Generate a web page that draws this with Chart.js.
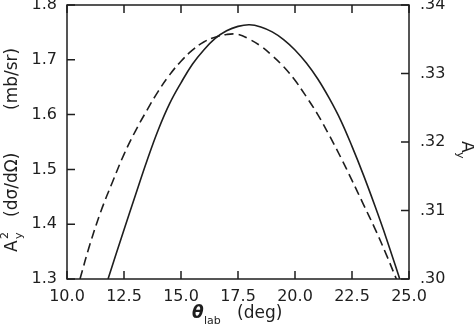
<!DOCTYPE html>
<html>
<head>
<meta charset="utf-8">
<script src="https://cdn.jsdelivr.net/npm/chart.js@4.4.1/dist/chart.umd.min.js"></script>
<style>
  html, body { margin: 0; padding: 0; background: #fff; }
  #wrap { width: 474px; height: 325px; position: relative; }
</style>
</head>
<body>
<div id="wrap"><canvas id="grafico"></canvas></div>
<script>
// theta_lab (deg) and A_y^2 dsigma/dOmega (mb/sr) -- solid curve, left axis
const thetaSolido = [11.8, 12.5, 13.0, 13.5, 14.0, 14.5, 15.0, 15.5, 16.0, 16.5, 17.0, 17.5, 18.0, 18.5, 19.0, 19.5, 20.0, 20.5, 21.0, 21.5, 22.0, 22.5, 23.0, 23.5, 24.0, 24.61];
const valoresSolido = [1.30, 1.39, 1.453, 1.515, 1.572, 1.620, 1.658, 1.692, 1.718, 1.739, 1.753, 1.761, 1.764, 1.760, 1.751, 1.737, 1.718, 1.694, 1.665, 1.630, 1.590, 1.542, 1.490, 1.434, 1.375, 1.298];

// theta_lab (deg) and A_y -- dashed curve, right axis
const thetaTracejado = [10.57, 11.0, 11.5, 12.0, 12.5, 13.0, 13.5, 14.0, 14.5, 15.0, 15.5, 16.0, 16.5, 17.0, 17.5, 18.0, 18.5, 19.0, 19.5, 20.0, 20.5, 21.0, 21.5, 22.0, 22.5, 23.0, 23.5, 24.0, 24.47];
const valoresTracejado = [0.3000, 0.3050, 0.3100, 0.3142, 0.3182, 0.3216, 0.3246, 0.3274, 0.3298, 0.3318, 0.3334, 0.3346, 0.3353, 0.3357, 0.3357, 0.3350, 0.3340, 0.3326, 0.3310, 0.3290, 0.3266, 0.3240, 0.3210, 0.3178, 0.3144, 0.3109, 0.3074, 0.3036, 0.2998];

// tick labels
const ticksX = [10, 12.5, 15, 17.5, 20, 22.5, 25];
const ticksEsq = [1.3, 1.4, 1.5, 1.6, 1.7, 1.8];
const ticksDir = [0.30, 0.31, 0.32, 0.33, 0.34];

const FONTE = "'DejaVu Sans', sans-serif";
const COR = '#1e1e1e';

const pares = (xs, ys) => xs.map((x, i) => ({ x: x, y: ys[i] }));

function fixarTicks(lista) {
    return function (scale) {
        scale.ticks = lista.map(v => ({ value: v }));
    };
}

function semPadding(scale) {
    scale.paddingTop = 0;
    scale.paddingBottom = 0;
    scale.paddingLeft = 0;
    scale.paddingRight = 0;
}

// frame, inward ticks and axis titles
const moldura = {
    id: 'moldura',
    afterDraw(chart) {
        const ctx = chart.ctx;
        const a = chart.chartArea;
        const sx = chart.scales.x, sy = chart.scales.y, sy2 = chart.scales.y2;
        const L = 8;
        ctx.save();
        ctx.strokeStyle = COR;
        ctx.lineWidth = 1.5;
        ctx.strokeRect(a.left, a.top, a.right - a.left, a.bottom - a.top);
        ctx.beginPath();
        ticksX.forEach(v => {
            const px = sx.getPixelForValue(v);
            ctx.moveTo(px, a.bottom); ctx.lineTo(px, a.bottom - L);
            ctx.moveTo(px, a.top); ctx.lineTo(px, a.top + L);
        });
        ticksEsq.forEach(v => {
            const py = sy.getPixelForValue(v);
            ctx.moveTo(a.left, py); ctx.lineTo(a.left + L, py);
        });
        ticksDir.forEach(v => {
            const py = sy2.getPixelForValue(v);
            ctx.moveTo(a.right, py); ctx.lineTo(a.right - L, py);
        });
        ctx.stroke();

        ctx.fillStyle = COR;
        ctx.textBaseline = 'alphabetic';
        ctx.textAlign = 'left';

        // left title
        ctx.save();
        ctx.translate(17, 252);
        ctx.rotate(-Math.PI / 2);
        ctx.font = '17px ' + FONTE;
        ctx.fillText('A', 0, 0);
        ctx.font = '11px ' + FONTE;
        ctx.fillText('y', 13, 5);
        ctx.fillText('2', 13, -9);
        ctx.font = '17px ' + FONTE;
        ctx.fillText('(d\u03C3/d\u03A9)', 35, 0);
        ctx.fillText('(mb/sr)', 142, 0);
        ctx.restore();

        // right title
        ctx.save();
        ctx.translate(462, 141);
        ctx.rotate(Math.PI / 2);
        ctx.font = '17px ' + FONTE;
        ctx.fillText('A', 0, 0);
        ctx.font = '11px ' + FONTE;
        ctx.fillText('y', 11, 5);
        ctx.restore();

        // x title
        ctx.font = 'italic bold 17px ' + FONTE;
        ctx.fillText('\u03B8', 192, 318);
        ctx.font = '11px ' + FONTE;
        ctx.fillText('lab', 204, 324);
        ctx.font = '17px ' + FONTE;
        ctx.fillText('(deg)', 237, 318);
        ctx.restore();
    }
};

new Chart(document.getElementById('grafico'), {
    type: 'line',
    data: {
        datasets: [{
            label: 'A_y^2 dsigma/dOmega',
            data: pares(thetaSolido, valoresSolido),
            yAxisID: 'y',
            borderColor: COR,
            borderWidth: 1.6,
            pointRadius: 0,
            tension: 0.4,
            fill: false
        }, {
            label: 'A_y',
            data: pares(thetaTracejado, valoresTracejado),
            yAxisID: 'y2',
            borderColor: COR,
            borderWidth: 1.6,
            borderDash: [9, 5],
            pointRadius: 0,
            tension: 0.4,
            fill: false
        }]
    },
    options: {
        responsive: true,
        maintainAspectRatio: false,
        animation: false,
        layout: { padding: { top: 5, left: 0, right: 0, bottom: 0 } },
        plugins: { legend: { display: false }, tooltip: { enabled: false } },
        scales: {
            x: {
                type: 'linear',
                min: 10, max: 25,
                afterBuildTicks: fixarTicks(ticksX),
                afterFit(scale) { scale.height = 46; semPadding(scale); },
                grid: { display: false, drawTicks: false },
                border: { display: false },
                ticks: {
                    padding: 8,
                    maxRotation: 0,
                    autoSkip: false,
                    color: COR,
                    font: { family: FONTE, size: 16 },
                    callback: v => v.toFixed(1)
                }
            },
            y: {
                position: 'left',
                min: 1.3, max: 1.8,
                afterBuildTicks: fixarTicks(ticksEsq),
                afterFit(scale) { scale.width = 67; semPadding(scale); },
                grid: { display: false, drawTicks: false },
                border: { display: false },
                ticks: {
                    padding: 10,
                    autoSkip: false,
                    color: COR,
                    font: { family: FONTE, size: 16 },
                    callback: v => v.toFixed(1)
                }
            },
            y2: {
                position: 'right',
                min: 0.30, max: 0.34,
                afterBuildTicks: fixarTicks(ticksDir),
                afterFit(scale) { scale.width = 65; semPadding(scale); },
                grid: { display: false, drawTicks: false },
                border: { display: false },
                ticks: {
                    padding: 11,
                    autoSkip: false,
                    color: COR,
                    font: { family: FONTE, size: 16 },
                    callback: v => '.' + v.toFixed(2).slice(2)
                }
            }
        }
    },
    plugins: [moldura]
});
</script>
</body>
</html>
